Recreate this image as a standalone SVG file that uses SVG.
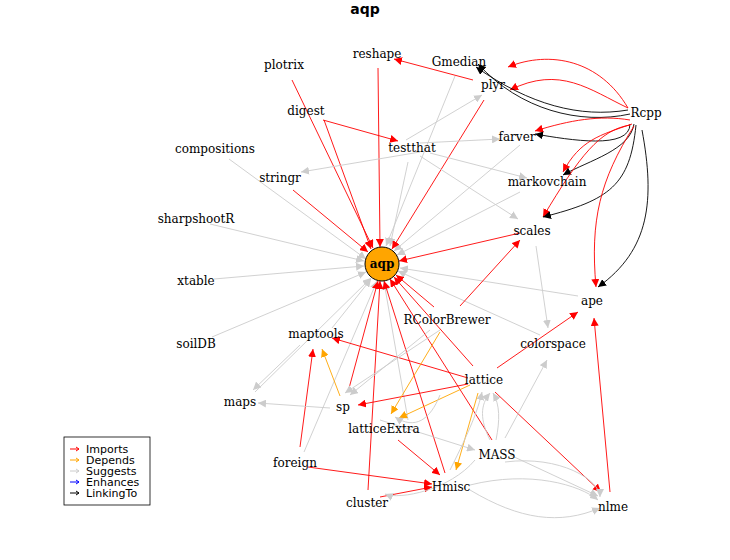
<svg xmlns="http://www.w3.org/2000/svg" width="730" height="560" viewBox="0 0 730 560">
<style>
.n{font-family:"DejaVu Serif",serif;font-size:12px;text-anchor:middle;dominant-baseline:central;fill:#000}
.r{stroke:#f00;fill:none;stroke-width:0.9;marker-end:url(#mr)}
.o{stroke:#ffa500;fill:none;stroke-width:0.9;marker-end:url(#mo)}
.g{stroke:#ccc;fill:none;stroke-width:0.9;marker-end:url(#mg)}
.k{stroke:#000;fill:none;stroke-width:0.9;marker-end:url(#mk)}
.l{font-family:"DejaVu Sans",sans-serif;font-size:11px}
.la{fill:none;stroke-width:1}
</style>
<defs>
<marker id="mr" viewBox="0 0 10 10" refX="10" refY="5" markerWidth="8" markerHeight="8" orient="auto" markerUnits="userSpaceOnUse"><path d="M0,0L10,5L0,10z" fill="#f00"/></marker>
<marker id="mo" viewBox="0 0 10 10" refX="10" refY="5" markerWidth="8" markerHeight="8" orient="auto" markerUnits="userSpaceOnUse"><path d="M0,0L10,5L0,10z" fill="#ffa500"/></marker>
<marker id="mg" viewBox="0 0 10 10" refX="10" refY="5" markerWidth="8" markerHeight="8" orient="auto" markerUnits="userSpaceOnUse"><path d="M0,0L10,5L0,10z" fill="#ccc"/></marker>
<marker id="mk" viewBox="0 0 10 10" refX="10" refY="5" markerWidth="8" markerHeight="8" orient="auto" markerUnits="userSpaceOnUse"><path d="M0,0L10,5L0,10z" fill="#000"/></marker>
</defs>
<rect width="730" height="560" fill="#fff"/>
<text x="365" y="14" font-family="DejaVu Sans,sans-serif" font-weight="bold" font-size="14" text-anchor="middle">aqp</text>
<g id="edges">
<path class="g" d="M229,159L366,259"/>
<path class="g" d="M210,224L364,261"/>
<path class="g" d="M214,279L364,266"/>
<path class="g" d="M212,337L366,272"/>
<path class="g" d="M455,76L386,246"/>
<path class="g" d="M408,162L390,246"/>
<path class="g" d="M520,192L397,255"/>
<path class="g" d="M578,296L400,268"/>
<path class="g" d="M540,335L398,271"/>
<path class="g" d="M255,392L371,278"/>
<path class="g" d="M408,420L384,282"/>
<path class="g" d="M304,452L377,281"/>
<path class="g" d="M332,328L371,279"/>
<path class="g" d="M520,145L394,251"/>
<path class="r" d="M292,80L373,248"/>
<path class="r" d="M378,68L380,247"/>
<path class="r" d="M484,100L392,249"/>
<path class="r" d="M324,120L371,249"/>
<path class="r" d="M293,190L368,252"/>
<path class="r" d="M520,233L399,261"/>
<path class="r" d="M348,392L378,281"/>
<path class="r" d="M368,490L380,281"/>
<path class="r" d="M445,473L384,281"/>
<path class="r" d="M492,440L390,279"/>
<path class="r" d="M473,366L394,277"/>
<path class="r" d="M434,307L396,275"/>
<path class="r" d="M473,80L394,59"/>
<path class="r" d="M323,120L398,141"/>
<path class="r" d="M628,108C590,90 560,65 510,90"/>
<path class="r" d="M628,108C600,60 550,50 508,67"/>
<path class="k" d="M628,110C580,118 530,105 476,67"/>
<path class="k" d="M630,114C580,125 520,110 478,64"/>
<path class="r" d="M630,120C600,115 570,120 535,131"/>
<path class="k" d="M630,124C630,150 570,140 535,134"/>
<path class="r" d="M632,124C600,135 580,140 563,172"/>
<path class="k" d="M634,124C630,150 590,160 563,175"/>
<path class="r" d="M630,125C600,130 580,155 543,217"/>
<path class="k" d="M636,125C630,185 610,200 543,217"/>
<path class="r" d="M634,126C600,180 590,220 596,287"/>
<path class="k" d="M642,130C655,200 650,250 598,287"/>
<path class="g" d="M420,152L301,172"/>
<path class="g" d="M420,143L500,139"/>
<path class="g" d="M406,140L482,95"/>
<path class="g" d="M430,153L527,178"/>
<path class="g" d="M420,156L518,219"/>
<path class="g" d="M536,246L548,328"/>
<path class="r" d="M460,306L520,240"/>
<path class="r" d="M497,368L578,312"/>
<path class="r" d="M468,378L332,338"/>
<path class="r" d="M468,384L358,405"/>
<path class="r" d="M495,392L601,492"/>
<path class="r" d="M610,492L594,318"/>
<path class="o" d="M440,332L391,414"/>
<path class="o" d="M470,385L399,418"/>
<path class="o" d="M478,393L456,470"/>
<path class="o" d="M340,396L322,349"/>
<path class="r" d="M398,440L440,475"/>
<path class="r" d="M380,497L432,487"/>
<path class="r" d="M308,467L432,484"/>
<path class="r" d="M300,447L313,349"/>
<path class="g" d="M300,345L253,390"/>
<path class="g" d="M330,408L258,403"/>
<path class="g" d="M430,330L350,395"/>
<path class="g" d="M440,330L345,393"/>
<path class="g" d="M505,438L547,360"/>
<path class="g" d="M490,440C480,420 480,405 490,393"/>
<path class="g" d="M496,440C500,420 500,405 493,393"/>
<path class="g" d="M510,455L598,496"/>
<path class="g" d="M505,462C560,455 600,480 600,497"/>
<path class="g" d="M470,485C530,470 580,485 598,500"/>
<path class="g" d="M470,490C520,520 560,525 600,508"/>
<path class="g" d="M440,395C430,420 415,430 395,417"/>
<path class="g" d="M475,460C450,490 400,500 385,494"/>
<path class="g" d="M380,420L475,450"/>
<path class="g" d="M450,470C470,430 478,410 482,392"/>
</g>
<g id="aqp"><circle cx="382" cy="264" r="17" fill="#ffa500" stroke="#000"/><text class="n" x="382" y="264" font-weight="bold">aqp</text></g>
<g id="plotrix"><text class="n" x="284" y="65">plotrix</text></g>
<g id="reshape"><text class="n" x="377" y="54">reshape</text></g>
<g id="Gmedian"><text class="n" x="459" y="62">Gmedian</text></g>
<g id="plyr"><text class="n" x="493" y="85">plyr</text></g>
<g id="Rcpp"><text class="n" x="646" y="113">Rcpp</text></g>
<g id="digest"><text class="n" x="306" y="111">digest</text></g>
<g id="testthat"><text class="n" x="412" y="148">testthat</text></g>
<g id="farver"><text class="n" x="517" y="137">farver</text></g>
<g id="compositions"><text class="n" x="215" y="149">compositions</text></g>
<g id="stringr"><text class="n" x="280" y="178">stringr</text></g>
<g id="markovchain"><text class="n" x="547" y="182">markovchain</text></g>
<g id="scales"><text class="n" x="532" y="231">scales</text></g>
<g id="sharpshootR"><text class="n" x="196" y="219">sharpshootR</text></g>
<g id="xtable"><text class="n" x="196" y="281">xtable</text></g>
<g id="ape"><text class="n" x="592" y="301">ape</text></g>
<g id="soilDB"><text class="n" x="196" y="344">soilDB</text></g>
<g id="maptools"><text class="n" x="316" y="334">maptools</text></g>
<g id="RColorBrewer"><text class="n" x="447" y="320">RColorBrewer</text></g>
<g id="colorspace"><text class="n" x="553" y="344">colorspace</text></g>
<g id="lattice"><text class="n" x="484" y="380">lattice</text></g>
<g id="maps"><text class="n" x="240" y="402">maps</text></g>
<g id="sp"><text class="n" x="343" y="407">sp</text></g>
<g id="latticeExtra"><text class="n" x="384" y="429">latticeExtra</text></g>
<g id="MASS"><text class="n" x="497" y="455">MASS</text></g>
<g id="foreign"><text class="n" x="295" y="463">foreign</text></g>
<g id="Hmisc"><text class="n" x="451" y="487">Hmisc</text></g>
<g id="cluster"><text class="n" x="367" y="503">cluster</text></g>
<g id="nlme"><text class="n" x="613" y="507">nlme</text></g>
<g id="legend">
<rect x="64" y="437" width="86" height="68" fill="#fff" stroke="#000" stroke-width="0.8"/>
<path class="la" stroke="#f00" d="M70,449H79M76,447L79,449L76,451"/><text class="l" x="86" y="453">Imports</text>
<path class="la" stroke="#ffa500" d="M70,460H79M76,458L79,460L76,462"/><text class="l" x="86" y="464">Depends</text>
<path class="la" stroke="#ccc" d="M70,471H79M76,469L79,471L76,473"/><text class="l" x="86" y="475">Suggests</text>
<path class="la" stroke="#00f" d="M70,482H79M76,480L79,482L76,484"/><text class="l" x="86" y="486">Enhances</text>
<path class="la" stroke="#000" d="M70,493H79M76,491L79,493L76,495"/><text class="l" x="86" y="497">LinkingTo</text>
</g>
</svg>
